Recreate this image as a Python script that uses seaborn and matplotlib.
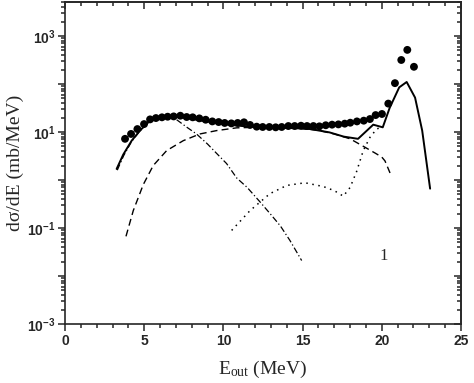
import numpy as np
import matplotlib
matplotlib.use("Agg")
import matplotlib.pyplot as plt
import matplotlib.ticker as mticker
import seaborn as sns

# experimental points
e_exp = [3.79, 4.17, 4.57, 4.99, 5.37, 5.74, 6.12, 6.48, 6.86, 7.28,
         7.68, 8.06, 8.48, 8.88, 9.30, 9.70, 10.08, 10.50, 10.90, 11.30,
         11.68, 12.10, 12.48, 12.90, 13.30, 13.68, 14.10, 14.50, 14.90, 15.28,
         15.68, 16.06, 16.46, 16.86, 17.26, 17.66, 18.01, 18.43, 18.86, 19.25,
         19.61, 20.01, 20.41, 20.83, 21.23, 21.61, 22.03]
y_exp = [7.2, 9.1, 11.5, 14.6, 18.3, 19.5, 20.2, 20.8, 21.1, 21.8,
         20.5, 20.2, 19.2, 18.0, 16.6, 16.1, 15.4, 15.1, 15.4, 15.9,
         14.0, 12.9, 12.7, 12.7, 12.5, 12.7, 13.3, 13.3, 13.5, 13.3,
         13.3, 13.1, 13.8, 14.2, 14.4, 14.9, 15.6, 16.6, 17.2, 18.6,
         22.5, 23.7, 39.0, 104, 316, 513, 228]

# total calculation (solid)
e_total = [3.26, 3.68, 4.21, 4.73, 5.37, 6.0, 6.63, 7.5, 8.5, 9.5, 10.5, 11.5,
           12.5, 13.5, 14.5, 15.5, 16.7, 17.6, 18.5, 19.46, 20.06, 20.5, 21.1,
           21.57, 22.1, 22.55, 23.05]
y_total = [1.7, 3.4, 6.6, 10.7, 17.2, 20.5, 21.5, 20.0, 17.5, 15.5, 14.0, 13.0,
           12.3, 12.2, 12.0, 11.5, 9.8, 8.0, 7.2, 14.2, 12.5, 32, 85,
           110, 52, 10.7, 0.66]

# dashed component
e_dash = [3.85, 4.31, 4.94, 5.57, 6.42, 7.47, 8.52, 9.58, 10.84, 12.0, 13.0,
          14.0, 15.0, 16.0, 17.0, 18.0, 18.94, 19.6, 20.0, 20.2, 20.52]
y_dash = [0.067, 0.23, 0.8, 2.0, 4.1, 6.6, 9.1, 10.7, 12.2, 12.5, 12.5,
          12.3, 11.8, 10.8, 9.1, 7.2, 4.8, 3.6, 3.0, 2.5, 1.4]

# dash-dot component
e_dd = [3.3, 3.7, 4.2, 4.7, 5.3, 6.0, 6.6, 7.0, 7.7, 8.3, 9.0, 9.6, 10.2,
        10.84, 11.5, 12.31, 13.0, 13.6, 14.2, 14.94]
y_dd = [1.6, 3.2, 6.3, 10.2, 16.0, 20.0, 21.0, 18.5, 12.5, 9.1, 5.6, 3.5, 2.2,
        1.1, 0.7, 0.35, 0.19, 0.11, 0.055, 0.021]

# dotted component
e_dot = [10.52, 11.68, 12.94, 14.0, 15.15, 16.31, 17.0, 17.57, 18.0, 18.41,
         18.83, 19.25, 19.68, 20.0]
y_dot = [0.089, 0.23, 0.52, 0.77, 0.875, 0.73, 0.6, 0.46, 0.7, 1.5,
         4.1, 7.7, 11.6, 12.5]

sns.set_style("ticks")
plt.rcParams["font.family"] = ["Liberation Sans", "DejaVu Sans"]
plt.rcParams["mathtext.fontset"] = "custom"
plt.rcParams["mathtext.rm"] = "Liberation Serif"
plt.rcParams["mathtext.it"] = "Liberation Serif:italic"
plt.rcParams["mathtext.bf"] = "Liberation Sans:bold"

fig = plt.figure(figsize=(4.74, 3.83), dpi=100)
ax = fig.add_axes([65 / 474, 59 / 383, 396 / 474, 322 / 383])

sns.lineplot(x=e_dd, y=y_dd, ax=ax, color="black", lw=0.9,
             linestyle=(0, (5, 2, 1, 2)), sort=False)
sns.lineplot(x=e_dash, y=y_dash, ax=ax, color="black", lw=1.0,
             linestyle=(0, (5, 3)), sort=False)
sns.lineplot(x=e_dot, y=y_dot, ax=ax, color="black", lw=1.1,
             linestyle=(0, (1, 3)), sort=False)
sns.lineplot(x=e_total, y=y_total, ax=ax, color="black", lw=1.4, sort=False)
sns.scatterplot(x=e_exp, y=y_exp, ax=ax, color="black", s=32, edgecolor="none")

ax.set_yscale("log")
ax.set_xlim(0, 25)
ax.set_ylim(1e-3, 5.1e3)

ax.xaxis.set_major_locator(mticker.MultipleLocator(5))
ax.xaxis.set_minor_locator(mticker.MultipleLocator(1))
ax.yaxis.set_major_locator(mticker.LogLocator(base=10, numticks=20))
ax.yaxis.set_minor_locator(mticker.LogLocator(base=10, subs=np.arange(2, 10), numticks=20))


def ylab(v, pos):
    p = int(round(np.log10(v)))
    if p % 2 == 0:
        return ""
    return r"$\mathbf{10^{%d}}$" % p


ax.yaxis.set_major_formatter(mticker.FuncFormatter(ylab))
ax.yaxis.set_minor_formatter(mticker.NullFormatter())

for s in ax.spines.values():
    s.set_visible(True)
    s.set_linewidth(1.2)
ax.tick_params(which="both", direction="out", top=False, right=False, width=1.1)
ax.tick_params(which="major", length=5, labelsize=10, pad=2)
ax.tick_params(which="minor", length=3)
for lab in ax.get_xticklabels() + ax.get_yticklabels():
    lab.set_fontweight("bold")

# mirrored inward ticks on top and right, no labels
top = ax.secondary_xaxis("top")
top.xaxis.set_major_locator(mticker.MultipleLocator(5))
top.xaxis.set_minor_locator(mticker.MultipleLocator(1))
top.xaxis.set_major_formatter(mticker.NullFormatter())
top.tick_params(which="both", direction="in", width=1.1)
top.tick_params(which="major", length=5)
top.tick_params(which="minor", length=3)
top.spines["top"].set_linewidth(1.2)

right = ax.secondary_yaxis("right")
right.yaxis.set_major_locator(mticker.LogLocator(base=10, numticks=20))
right.yaxis.set_minor_locator(mticker.LogLocator(base=10, subs=np.arange(2, 10), numticks=20))
right.yaxis.set_major_formatter(mticker.NullFormatter())
right.yaxis.set_minor_formatter(mticker.NullFormatter())
right.tick_params(which="both", direction="in", width=1.1)
right.tick_params(which="major", length=5)
right.tick_params(which="minor", length=3)
right.spines["right"].set_linewidth(1.2)

ax.set_xlabel(r"E$_{\mathrm{out}}$ (MeV)", family="Liberation Serif", fontsize=14, labelpad=8)
ax.set_ylabel("dσ/dE (mb/MeV)", family="Liberation Serif", fontsize=14, labelpad=2)
ax.text(20.1, 0.026, "1", family="Liberation Serif", fontsize=12, ha="center", va="center")

plt.savefig("out.png", dpi=100)
